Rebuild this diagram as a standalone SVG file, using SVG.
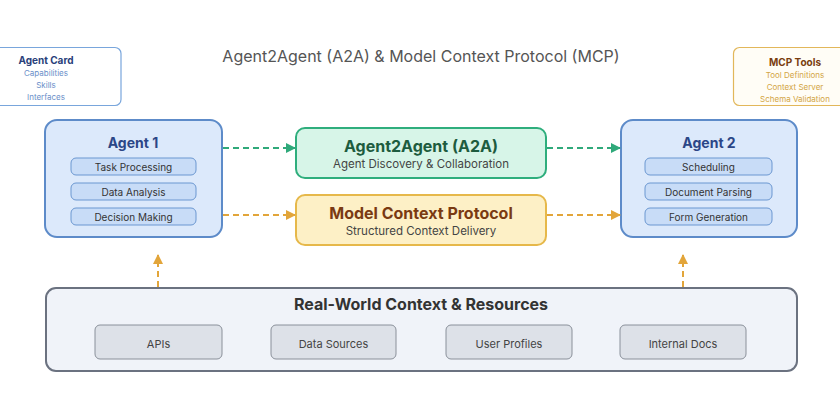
<svg xmlns="http://www.w3.org/2000/svg" width="840" height="420" viewBox="0 0 840 420">
<defs>
<style>
text{font-family:Inter,"Noto Sans","Liberation Sans",sans-serif;text-anchor:middle}
.title{font-size:16px;fill:#555}
.card{fill:#fff;stroke:#79a6dc;stroke-width:1.2}
.cardT{font-size:10px;font-weight:700;fill:#2a3f7a}
.cardI{font-size:8px;fill:#6b8fc9}
.tools{fill:#fffdf6;stroke:#e2b75a;stroke-width:1.2}
.toolsT{font-size:10px;font-weight:700;fill:#7a3e10}
.toolsI{font-size:8px;fill:#d3a545}
.agent{fill:#dce9fb;stroke:#5d8bc9;stroke-width:2}
.agentT{font-size:14px;font-weight:700;fill:#2b4687}
.pill{fill:#c8dcf7;stroke:#6b97d1;stroke-width:1}
.pillT{font-size:10px;fill:#333}
.a2a{fill:#d7f5e8;stroke:#2fae7d;stroke-width:2}
.a2aT{font-size:16px;font-weight:700;fill:#1d5c3f}
.sub{font-size:11.5px;fill:#444}
.mcp{fill:#fdf0c6;stroke:#e6b84a;stroke-width:2}
.mcpT{font-size:16px;font-weight:700;fill:#7a3a12}
.res{fill:#f0f3f9;stroke:#6b7280;stroke-width:2}
.resT{font-size:16px;font-weight:700;fill:#333}
.item{fill:#dde1e8;stroke:#8a909a;stroke-width:1}
.itemT{font-size:11px;fill:#444}
.g{stroke:#2fa97a;stroke-width:2;stroke-dasharray:6 4;fill:none}
.o{stroke:#e2a53a;stroke-width:2;stroke-dasharray:6 4;fill:none}
</style>
<marker id="mg" viewBox="0 0 10 10" refX="9" refY="5" markerWidth="5" markerHeight="5" orient="auto"><path d="M0,0L10,5L0,10z" fill="#2fa97a"/></marker>
<marker id="mo" viewBox="0 0 10 10" refX="9" refY="5" markerWidth="5" markerHeight="5" orient="auto"><path d="M0,0L10,5L0,10z" fill="#e2a53a"/></marker>
</defs>
<rect width="840" height="420" fill="#fff"/>
<text class="title" x="421" y="62">Agent2Agent (A2A) &amp; Model Context Protocol (MCP)</text>

<g id="agent-card">
<rect class="card" x="-20" y="47.5" width="141" height="58" rx="6"/>
<text class="cardT" x="46" y="64">Agent Card</text>
<text class="cardI" x="46" y="76">Capabilities</text>
<text class="cardI" x="46" y="88">Skills</text>
<text class="cardI" x="46" y="100">Interfaces</text>
</g>

<g id="mcp-tools">
<rect class="tools" x="733.5" y="47.5" width="130" height="58" rx="6"/>
<text class="toolsT" x="795" y="66">MCP Tools</text>
<text class="toolsI" x="795" y="78">Tool Definitions</text>
<text class="toolsI" x="795" y="90">Context Server</text>
<text class="toolsI" x="795" y="102">Schema Validation</text>
</g>

<g id="agent1">
<rect class="agent" x="45" y="120" width="177" height="117" rx="12"/>
<text class="agentT" x="133" y="148">Agent 1</text>
<rect class="pill" x="71" y="158" width="125" height="17" rx="5"/>
<text class="pillT" x="133.5" y="171">Task Processing</text>
<rect class="pill" x="71" y="183" width="125" height="17" rx="5"/>
<text class="pillT" x="133.5" y="196">Data Analysis</text>
<rect class="pill" x="71" y="208" width="125" height="17" rx="5"/>
<text class="pillT" x="133.5" y="221">Decision Making</text>
</g>

<g id="agent2">
<rect class="agent" x="621" y="120" width="176" height="117" rx="12"/>
<text class="agentT" x="709" y="148">Agent 2</text>
<rect class="pill" x="645" y="158" width="127" height="17" rx="5"/>
<text class="pillT" x="708.5" y="171">Scheduling</text>
<rect class="pill" x="645" y="183" width="127" height="17" rx="5"/>
<text class="pillT" x="708.5" y="196">Document Parsing</text>
<rect class="pill" x="645" y="208" width="127" height="17" rx="5"/>
<text class="pillT" x="708.5" y="221">Form Generation</text>
</g>

<g id="a2a">
<rect class="a2a" x="296" y="128" width="250" height="50" rx="9"/>
<text class="a2aT" x="421" y="152">Agent2Agent (A2A)</text>
<text class="sub" x="421" y="168">Agent Discovery &amp; Collaboration</text>
</g>

<g id="mcp">
<rect class="mcp" x="296" y="195" width="250" height="50" rx="9"/>
<text class="mcpT" x="421" y="219">Model Context Protocol</text>
<text class="sub" x="421" y="235">Structured Context Delivery</text>
</g>

<g id="resources">
<rect class="res" x="46" y="288" width="751" height="83" rx="10"/>
<text class="resT" x="421" y="310">Real-World Context &amp; Resources</text>
<rect class="item" x="95" y="325" width="127" height="34" rx="5"/>
<text class="itemT" x="158.5" y="348">APIs</text>
<rect class="item" x="271" y="325" width="125" height="34" rx="5"/>
<text class="itemT" x="333.5" y="348">Data Sources</text>
<rect class="item" x="446" y="325" width="126" height="34" rx="5"/>
<text class="itemT" x="509" y="348">User Profiles</text>
<rect class="item" x="620" y="325" width="126" height="34" rx="5"/>
<text class="itemT" x="683" y="348">Internal Docs</text>
</g>

<g id="connectors">
<line class="g" x1="223" y1="148" x2="295" y2="148" marker-end="url(#mg)"/>
<line class="g" x1="547" y1="148" x2="620" y2="148" marker-end="url(#mg)"/>
<line class="o" x1="223" y1="215" x2="295" y2="215" marker-end="url(#mo)"/>
<line class="o" x1="547" y1="215" x2="620" y2="215" marker-end="url(#mo)"/>
<line class="o" x1="158" y1="287" x2="158" y2="255" marker-end="url(#mo)"/>
<line class="o" x1="683" y1="287" x2="683" y2="255" marker-end="url(#mo)"/>
</g>
</svg>
